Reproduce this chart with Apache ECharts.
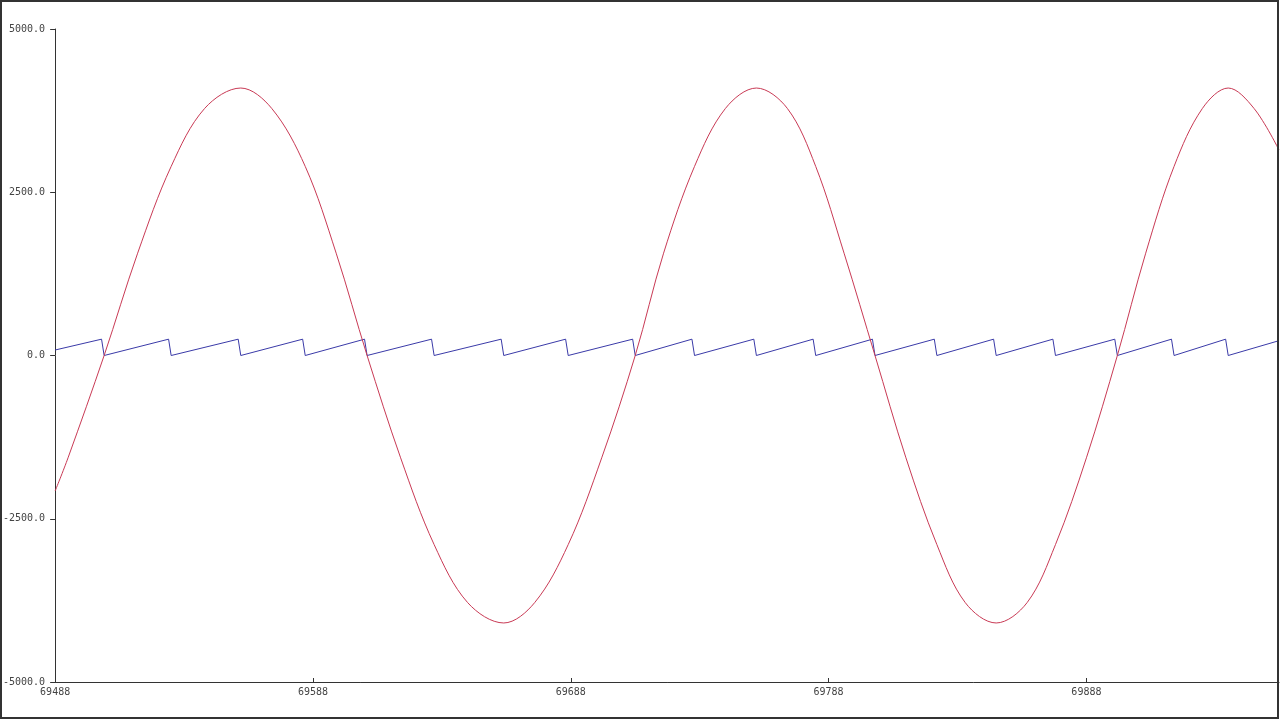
<!DOCTYPE html>
<html>
<head>
<meta charset="utf-8">
<script src="https://cdn.jsdelivr.net/npm/echarts@6/dist/echarts.min.js"></script>
<style>
html,body{margin:0;padding:0;background:#fff;}
#chart{width:1280px;height:720px;}
</style>
</head>
<body>
<div id="chart"></div>
<script>
// x axis start (sample index) and tick labels
const X_START = 69488;
const X_END = 69962.7;
const xTickLabels = [69488, 69588, 69688, 69788, 69888];
const yTickLabels = [-5000, -2500, 0, 2500, 5000];

// red series (sine-like), sample index and value
const redX = [69488, 69493, 69507, 69520, 69533, 69546, 69560, 69572, 69585, 69597,
  69609, 69622, 69635, 69648, 69662, 69674, 69687, 69700, 69713, 69724,
  69736, 69748, 69760, 69772, 69783, 69794, 69806, 69818, 69830, 69841,
  69853, 69865, 69876, 69888, 69900, 69911, 69922, 69933, 69943, 69953, 69962.7];
const redY = [-2075, -1567, 0, 1567, 2896, 3784, 4096, 3784, 2896, 1567,
  0, -1567, -2896, -3784, -4096, -3784, -2896, -1567, 0, 1567,
  2896, 3784, 4096, 3784, 2896, 1567, 0, -1567, -2896, -3784,
  -4096, -3784, -2896, -1567, 0, 1567, 2896, 3784, 4096, 3784, 3147];

// blue series (sawtooth): tooth tops and resets
const blueX = [69488, 69506, 69507, 69532, 69533, 69559, 69560, 69584, 69585, 69608,
  69609, 69634, 69635, 69661, 69662, 69686, 69687, 69712, 69713, 69735,
  69736, 69759, 69760, 69782, 69783, 69805, 69806, 69829, 69830, 69852,
  69853, 69875, 69876, 69899, 69900, 69921, 69922, 69942, 69943, 69962.7];
const blueY = [84, 250, 0, 250, 0, 250, 0, 250, 0, 250,
  0, 250, 0, 250, 0, 250, 0, 250, 0, 250,
  0, 250, 0, 250, 0, 250, 0, 250, 0, 250,
  0, 250, 0, 250, 0, 250, 0, 250, 0, 227];

const RED = '#c93a55';
const BLUE = '#3a3aa8';

const redData = redX.map((x, i) => [x - X_START, redY[i]]);
const blueData = blueX.map((x, i) => [x - X_START, blueY[i]]);

const chart = echarts.init(document.getElementById('chart'), null, {renderer: 'canvas'});
const labelFont = {fontFamily: 'DejaVu Sans Mono', fontSize: 10, color: '#444'};

chart.setOption({
  animation: false,
  backgroundColor: '#ffffff',
  grid: {left: 53, right: 1, top: 29, bottom: 38, containLabel: false},
  xAxis: {
    type: 'value',
    min: 0,
    max: X_END - X_START,
    interval: 100,
    splitLine: {show: false},
    axisLine: {show: true, onZero: false, lineStyle: {color: '#333', width: 1}},
    axisTick: {show: true, inside: true, length: 4, lineStyle: {color: '#333'}},
    axisLabel: Object.assign({
      margin: 5,
      showMaxLabel: false,
      formatter: v => {
        const lab = X_START + v;
        return xTickLabels.indexOf(lab) >= 0 ? String(lab) : '';
      }
    }, labelFont)
  },
  yAxis: {
    type: 'value',
    min: yTickLabels[0],
    max: yTickLabels[yTickLabels.length - 1],
    interval: 2500,
    splitLine: {show: false},
    axisLine: {show: true, onZero: false, lineStyle: {color: '#333', width: 1}},
    axisTick: {show: true, length: 5, lineStyle: {color: '#333'}},
    axisLabel: Object.assign({
      margin: 10,
      formatter: v => v.toFixed(1)
    }, labelFont)
  },
  series: [
    {
      name: 'blue',
      type: 'line',
      data: blueData,
      showSymbol: false,
      lineStyle: {color: BLUE, width: 1},
      itemStyle: {color: BLUE},
      z: 2
    },
    {
      name: 'red',
      type: 'line',
      data: redData,
      smooth: 0.35,
      showSymbol: false,
      lineStyle: {color: RED, width: 1},
      itemStyle: {color: RED},
      z: 3
    }
  ],
  graphic: [{
    type: 'rect',
    shape: {x: 1, y: 1, width: 1277, height: 717},
    style: {fill: null, stroke: '#333', lineWidth: 2},
    z: 100,
    silent: true
  }]
});
</script>
</body>
</html>
